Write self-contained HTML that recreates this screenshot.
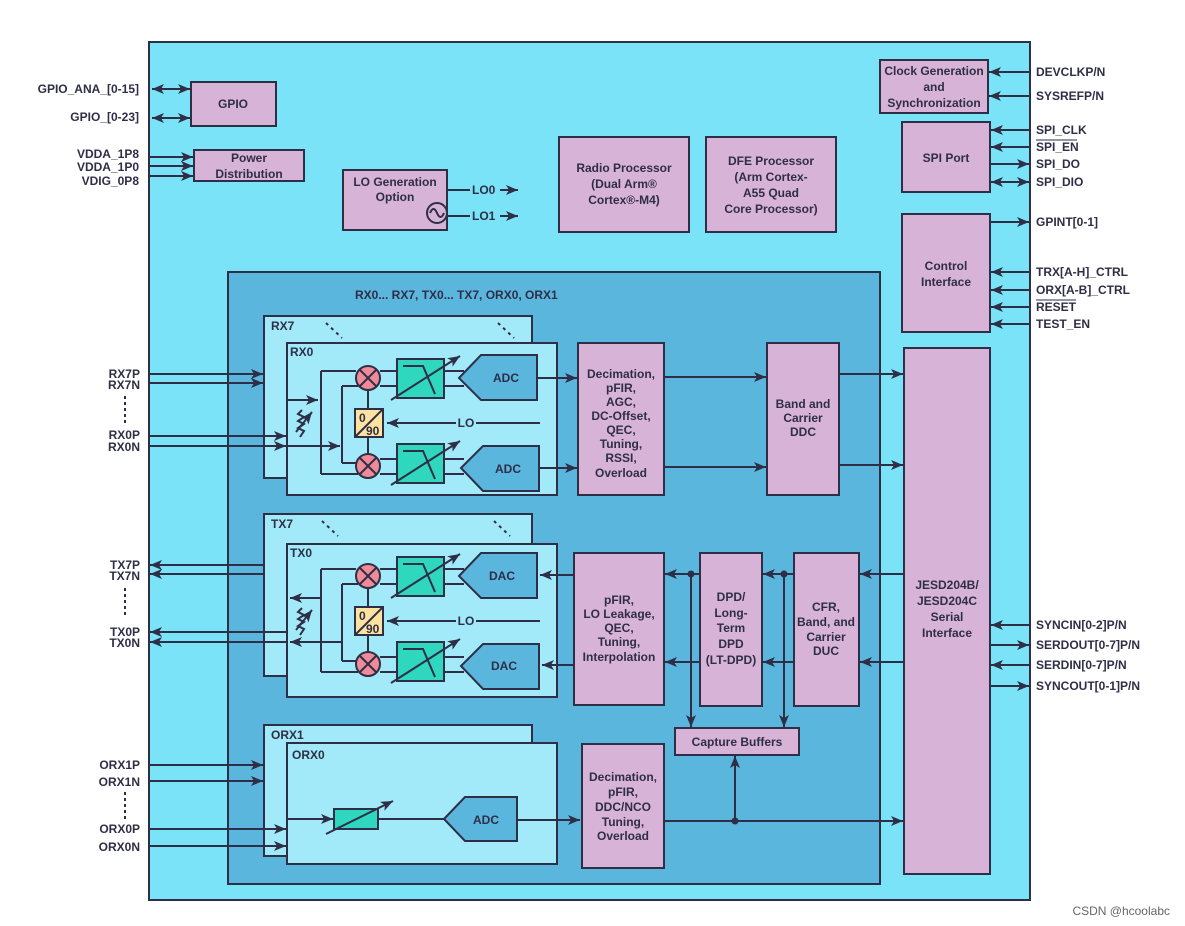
<!DOCTYPE html>
<html><head><meta charset="utf-8"><style>
html,body{margin:0;padding:0;background:#fff;}
svg{display:block;font-family:"Liberation Sans",sans-serif;font-weight:bold;}
</style></head><body>
<svg width="1185" height="926" viewBox="0 0 1185 926" xmlns="http://www.w3.org/2000/svg">
<defs>
<marker id="a" viewBox="0 0 12 10" refX="12" refY="5" markerWidth="12" markerHeight="10" markerUnits="userSpaceOnUse" orient="auto-start-reverse"><path d="M0,0 L12,5 L0,10 L3,5z" fill="#2e2e46"/></marker>
</defs>
<style>
.l{stroke:#2e2e46;stroke-width:2;fill:none}
.b{stroke:#2e2e46;stroke-width:2}
.p{fill:#d8b3d8}
.c{fill:#a2eaf9}
.g{fill:#30d7bf}
.ad{fill:#5bb6de}
text{fill:#2e2e46;font-size:12px}
.r{text-anchor:end}
.m{text-anchor:middle}
</style>
<!-- outer -->
<rect x="149" y="42" width="881" height="858" fill="#7be3f8" class="b"/>
<rect x="228" y="272" width="652" height="612" fill="#5bb6de" class="b"/>

<!-- left top -->
<text x="139" y="93" class="r">GPIO_ANA_[0-15]</text>
<text x="139" y="121" class="r">GPIO_[0-23]</text>
<line x1="152" y1="89" x2="190" y2="89" class="l" marker-start="url(#a)" marker-end="url(#a)"/>
<line x1="152" y1="118" x2="190" y2="118" class="l" marker-start="url(#a)" marker-end="url(#a)"/>
<rect x="191" y="82" width="85" height="44" class="p b"/>
<text x="233" y="108" class="m">GPIO</text>
<text x="139" y="158" class="r">VDDA_1P8</text>
<text x="139" y="171" class="r">VDDA_1P0</text>
<text x="139" y="185" class="r">VDIG_0P8</text>
<line x1="149" y1="157" x2="193" y2="157" class="l" marker-end="url(#a)"/>
<line x1="149" y1="166" x2="193" y2="166" class="l" marker-end="url(#a)"/>
<line x1="149" y1="176" x2="193" y2="176" class="l" marker-end="url(#a)"/>
<rect x="194" y="150" width="110" height="31" class="p b"/>
<text x="249" y="162" class="m">Power</text>
<text x="249" y="178" class="m">Distribution</text>

<!-- LO gen -->
<rect x="343" y="170" width="104" height="60" class="p b"/>
<text x="395" y="186" class="m">LO Generation</text>
<text x="395" y="201" class="m">Option</text>
<circle cx="437" cy="213" r="10" fill="none" class="l"/>
<path d="M430,213 q3.5,-8 7,0 t7,0" class="l" stroke-width="1.5"/>
<line x1="447" y1="190" x2="470" y2="190" class="l"/>
<line x1="447" y1="216" x2="470" y2="216" class="l"/>
<text x="472" y="194">LO0</text><text x="472" y="220">LO1</text>
<line x1="500" y1="190" x2="518" y2="190" class="l" marker-end="url(#a)"/>
<line x1="500" y1="216" x2="518" y2="216" class="l" marker-end="url(#a)"/>

<rect x="559" y="137" width="130" height="95" class="p b"/>
<text x="624" y="172" class="m">Radio Processor</text>
<text x="624" y="188" class="m">(Dual Arm®</text>
<text x="624" y="204" class="m">Cortex®-M4)</text>
<rect x="706" y="137" width="130" height="95" class="p b"/>
<text x="771" y="165" class="m">DFE Processor</text>
<text x="771" y="181" class="m">(Arm Cortex-</text>
<text x="771" y="197" class="m">A55 Quad</text>
<text x="771" y="213" class="m">Core Processor)</text>

<!-- right side -->
<rect x="880" y="60" width="108" height="53" class="p b"/>
<text x="934" y="75" class="m">Clock Generation</text>
<text x="934" y="91" class="m">and</text>
<text x="934" y="107" class="m">Synchronization</text>
<line x1="1030" y1="72" x2="989" y2="72" class="l" marker-end="url(#a)"/>
<line x1="1030" y1="96" x2="989" y2="96" class="l" marker-end="url(#a)"/>
<text x="1036" y="76">DEVCLKP/N</text><text x="1036" y="100">SYSREFP/N</text>
<rect x="902" y="122" width="88" height="70" class="p b"/>
<text x="946" y="162" class="m">SPI Port</text>
<line x1="1030" y1="130" x2="991" y2="130" class="l" marker-end="url(#a)"/>
<line x1="1030" y1="147" x2="991" y2="147" class="l" marker-end="url(#a)"/>
<line x1="990" y1="164" x2="1029" y2="164" class="l" marker-end="url(#a)"/>
<line x1="991" y1="182" x2="1029" y2="182" class="l" marker-start="url(#a)" marker-end="url(#a)"/>
<text x="1036" y="134">SPI_CLK</text><text x="1036" y="151">SPI_EN</text><line x1="1036" y1="140" x2="1077" y2="140" stroke="#2e2e46" stroke-width="1"/>
<text x="1036" y="168">SPI_DO</text><text x="1036" y="186">SPI_DIO</text>
<rect x="902" y="214" width="88" height="118" class="p b"/>
<text x="946" y="270" class="m">Control</text><text x="946" y="286" class="m">Interface</text>
<line x1="990" y1="222" x2="1029" y2="222" class="l" marker-end="url(#a)"/>
<line x1="1030" y1="272" x2="991" y2="272" class="l" marker-end="url(#a)"/>
<line x1="1030" y1="290" x2="991" y2="290" class="l" marker-end="url(#a)"/>
<line x1="1030" y1="307" x2="991" y2="307" class="l" marker-end="url(#a)"/>
<line x1="1030" y1="324" x2="991" y2="324" class="l" marker-end="url(#a)"/>
<text x="1036" y="226">GPINT[0-1]</text><text x="1036" y="276">TRX[A-H]_CTRL</text>
<text x="1036" y="294">ORX[A-B]_CTRL</text><text x="1036" y="311">RESET</text><line x1="1036" y1="300" x2="1076" y2="300" stroke="#2e2e46" stroke-width="1"/>
<text x="1036" y="328">TEST_EN</text>
<rect x="904" y="348" width="86" height="526" class="p b"/>
<text x="947" y="589" class="m">JESD204B/</text><text x="947" y="605" class="m">JESD204C</text>
<text x="947" y="621" class="m">Serial</text><text x="947" y="637" class="m">Interface</text>
<line x1="1030" y1="625" x2="991" y2="625" class="l" marker-end="url(#a)"/>
<line x1="990" y1="645" x2="1029" y2="645" class="l" marker-end="url(#a)"/>
<line x1="1030" y1="665" x2="991" y2="665" class="l" marker-end="url(#a)"/>
<line x1="990" y1="686" x2="1029" y2="686" class="l" marker-end="url(#a)"/>
<text x="1036" y="629">SYNCIN[0-2]P/N</text><text x="1036" y="649">SERDOUT[0-7]P/N</text>
<text x="1036" y="669">SERDIN[0-7]P/N</text><text x="1036" y="690">SYNCOUT[0-1]P/N</text>

<text x="355" y="299">RX0... RX7, TX0... TX7, ORX0, ORX1</text>

<!-- RX -->
<rect x="264" y="316" width="268" height="162" class="c b"/>
<text x="271" y="330">RX7</text>
<line x1="326" y1="323" x2="342" y2="338" class="l" stroke-dasharray="3,4"/>
<line x1="498" y1="323" x2="514" y2="338" class="l" stroke-dasharray="3,4"/>
<rect x="287" y="343" width="270" height="152" class="c b"/>
<text x="290" y="356">RX0</text>
<text x="140" y="378" class="r">RX7P</text><text x="140" y="389" class="r">RX7N</text>
<line x1="125" y1="396" x2="125" y2="424" class="l" stroke-dasharray="3,3"/>
<text x="140" y="439" class="r">RX0P</text><text x="140" y="451" class="r">RX0N</text>
<line x1="149" y1="374" x2="263" y2="374" class="l" marker-end="url(#a)"/>
<line x1="149" y1="383" x2="263" y2="383" class="l" marker-end="url(#a)"/>
<line x1="149" y1="436" x2="286" y2="436" class="l" marker-end="url(#a)"/>
<line x1="149" y1="446" x2="286" y2="446" class="l" marker-end="url(#a)"/>

<g id="chain">
<line x1="321" y1="371" x2="321" y2="474" class="l"/>
<line x1="342" y1="386" x2="342" y2="463" class="l"/>
<line x1="321" y1="371" x2="356" y2="371" class="l"/>
<line x1="342" y1="386" x2="358" y2="386" class="l"/>
<line x1="321" y1="474" x2="358" y2="474" class="l"/>
<line x1="342" y1="463" x2="356" y2="463" class="l"/>
<line x1="368" y1="390" x2="368" y2="454" class="l"/>
<rect x="355" y="409" width="28" height="28" fill="#fde3a0" class="b"/>
<line x1="355" y1="437" x2="383" y2="409" class="l"/>
<text x="359" y="422" font-size="11">0</text><text x="366" y="435" font-size="11">90</text>
<circle cx="368" cy="378" r="12" fill="#ef8b98" class="b"/>
<path d="M360,370 L376,386 M376,370 L360,386" class="l"/>
<circle cx="368" cy="466" r="12" fill="#ef8b98" class="b"/>
<path d="M360,458 L376,474 M376,458 L360,474" class="l"/>
<line x1="380" y1="371" x2="397" y2="371" class="l"/><line x1="380" y1="386" x2="397" y2="386" class="l"/>
<line x1="380" y1="459" x2="397" y2="459" class="l"/><line x1="380" y1="474" x2="397" y2="474" class="l"/>
<rect x="397" y="359" width="47" height="39" class="g b"/>
<rect x="397" y="444" width="47" height="39" class="g b"/>
<path d="M403,366 h20 l12,28" class="l"/>
<path d="M403,451 h20 l12,28" class="l"/>
<line x1="391" y1="400" x2="460" y2="356" class="l" marker-end="url(#a)"/>
<line x1="391" y1="485" x2="460" y2="441" class="l" marker-end="url(#a)"/>
<line x1="444" y1="371" x2="464" y2="371" class="l"/><line x1="444" y1="386" x2="464" y2="386" class="l"/>
<line x1="444" y1="459" x2="464" y2="459" class="l"/><line x1="444" y1="474" x2="464" y2="474" class="l"/>
<polygon points="459,378 481,355 537,355 537,400 481,400" class="ad b"/>
<polygon points="461,468 483,446 539,446 539,491 483,491" class="ad b"/>
<line x1="540" y1="423" x2="476" y2="423" class="l"/>
<line x1="456" y1="423" x2="387" y2="423" class="l" marker-end="url(#a)"/>
<text x="466" y="427" class="m">LO</text>
<path d="M302,410 l-4,4 6,3 -6,4 6,3 -6,4 6,3 -4,6" class="l" stroke-width="1.5"/>
<line x1="296" y1="432" x2="312" y2="412" class="l" stroke-width="1.5" marker-end="url(#a)"/>
</g>
<line x1="287" y1="400" x2="318" y2="400" class="l" marker-end="url(#a)"/>
<line x1="287" y1="446" x2="340" y2="446" class="l" marker-end="url(#a)"/>
<text x="506" y="382" class="m">ADC</text><text x="508" y="473" class="m">ADC</text>
<line x1="537" y1="378" x2="577" y2="378" class="l" marker-end="url(#a)"/>
<line x1="539" y1="468" x2="577" y2="468" class="l" marker-end="url(#a)"/>
<rect x="578" y="343" width="86" height="152" class="p b"/>
<g class="m"><text x="621" y="378" class="m">Decimation,</text><text x="621" y="392" class="m">pFIR,</text><text x="621" y="406" class="m">AGC,</text><text x="621" y="420" class="m">DC-Offset,</text><text x="621" y="434" class="m">QEC,</text><text x="621" y="448" class="m">Tuning,</text><text x="621" y="462" class="m">RSSI,</text><text x="621" y="477" class="m">Overload</text></g>
<line x1="664" y1="377" x2="766" y2="377" class="l" marker-end="url(#a)"/>
<line x1="664" y1="467" x2="766" y2="467" class="l" marker-end="url(#a)"/>
<rect x="767" y="343" width="72" height="152" class="p b"/>
<text x="803" y="408" class="m">Band and</text><text x="803" y="422" class="m">Carrier</text><text x="803" y="436" class="m">DDC</text>
<line x1="839" y1="374" x2="903" y2="374" class="l" marker-end="url(#a)"/>
<line x1="839" y1="465" x2="903" y2="465" class="l" marker-end="url(#a)"/>

<!-- TX -->
<rect x="264" y="514" width="268" height="162" class="c b"/>
<text x="271" y="528">TX7</text>
<line x1="322" y1="521" x2="338" y2="536" class="l" stroke-dasharray="3,4"/>
<line x1="494" y1="521" x2="510" y2="536" class="l" stroke-dasharray="3,4"/>
<rect x="287" y="544" width="270" height="153" class="c b"/>
<text x="290" y="557">TX0</text>
<text x="140" y="569" class="r">TX7P</text><text x="140" y="580" class="r">TX7N</text>
<line x1="125" y1="588" x2="125" y2="616" class="l" stroke-dasharray="3,3"/>
<text x="140" y="636" class="r">TX0P</text><text x="140" y="647" class="r">TX0N</text>
<line x1="264" y1="565" x2="150" y2="565" class="l" marker-end="url(#a)"/>
<line x1="264" y1="574" x2="150" y2="574" class="l" marker-end="url(#a)"/>
<line x1="287" y1="632" x2="150" y2="632" class="l" marker-end="url(#a)"/>
<line x1="287" y1="642" x2="150" y2="642" class="l" marker-end="url(#a)"/>
<g transform="translate(0,198)">
<use href="#chain"/>
</g>
<rect x="457" y="545" width="90" height="60" fill="#a2eaf9" opacity="0"/>
<line x1="321" y1="598" x2="290" y2="598" class="l" marker-end="url(#a)"/>
<line x1="342" y1="642" x2="290" y2="642" class="l" marker-end="url(#a)"/>
<rect x="458" y="552" width="4" height="1" fill="none"/>
<text x="502" y="580" class="m">DAC</text><text x="504" y="670" class="m">DAC</text>
<line x1="574" y1="575" x2="540" y2="575" class="l" marker-end="url(#a)"/>
<line x1="574" y1="665" x2="542" y2="665" class="l" marker-end="url(#a)"/>
<rect x="574" y="553" width="90" height="152" class="p b"/>
<text x="619" y="604" class="m">pFIR,</text><text x="619" y="618" class="m">LO Leakage,</text><text x="619" y="632" class="m">QEC,</text><text x="619" y="646" class="m">Tuning,</text><text x="619" y="661" class="m">Interpolation</text>
<line x1="700" y1="574" x2="665" y2="574" class="l" marker-end="url(#a)"/>
<line x1="700" y1="662" x2="665" y2="662" class="l" marker-end="url(#a)"/>
<line x1="691" y1="574" x2="691" y2="727" class="l" marker-end="url(#a)"/>
<circle cx="691" cy="574" r="3.5" fill="#2e2e46"/>
<rect x="700" y="553" width="62" height="153" class="p b"/>
<text x="731" y="601" class="m">DPD/</text><text x="731" y="617" class="m">Long-</text><text x="731" y="632" class="m">Term</text><text x="731" y="648" class="m">DPD</text><text x="731" y="664" class="m">(LT-DPD)</text>
<line x1="794" y1="574" x2="763" y2="574" class="l" marker-end="url(#a)"/>
<line x1="794" y1="662" x2="763" y2="662" class="l" marker-end="url(#a)"/>
<line x1="784" y1="574" x2="784" y2="727" class="l" marker-end="url(#a)"/>
<circle cx="784" cy="574" r="3.5" fill="#2e2e46"/>
<rect x="794" y="553" width="65" height="153" class="p b"/>
<text x="826" y="611" class="m">CFR,</text><text x="826" y="626" class="m">Band, and</text><text x="826" y="641" class="m">Carrier</text><text x="826" y="655" class="m">DUC</text>
<line x1="904" y1="574" x2="860" y2="574" class="l" marker-end="url(#a)"/>
<line x1="904" y1="662" x2="860" y2="662" class="l" marker-end="url(#a)"/>
<rect x="675" y="728" width="124" height="27" class="p b"/>
<text x="737" y="746" class="m">Capture Buffers</text>

<!-- ORX -->
<rect x="264" y="725" width="268" height="131" class="c b"/>
<text x="271" y="739">ORX1</text>
<rect x="287" y="743" width="270" height="121" class="c b"/>
<text x="292" y="759">ORX0</text>
<text x="140" y="769" class="r">ORX1P</text><text x="140" y="786" class="r">ORX1N</text>
<line x1="125" y1="792" x2="125" y2="820" class="l" stroke-dasharray="3,3"/>
<text x="140" y="833" class="r">ORX0P</text><text x="140" y="851" class="r">ORX0N</text>
<line x1="149" y1="765" x2="263" y2="765" class="l" marker-end="url(#a)"/>
<line x1="149" y1="781" x2="263" y2="781" class="l" marker-end="url(#a)"/>
<line x1="149" y1="829" x2="286" y2="829" class="l" marker-end="url(#a)"/>
<line x1="149" y1="846" x2="286" y2="846" class="l" marker-end="url(#a)"/>
<line x1="287" y1="819" x2="333" y2="819" class="l" marker-end="url(#a)"/>
<rect x="334" y="809" width="44" height="20" class="g b"/>
<line x1="326" y1="834" x2="393" y2="801" class="l" marker-end="url(#a)"/>
<line x1="378" y1="819" x2="444" y2="819" class="l"/>
<polygon points="444,819 465,797 517,797 517,841 465,841" class="ad b"/>
<text x="486" y="824" class="m">ADC</text>
<line x1="517" y1="820" x2="580" y2="820" class="l" marker-end="url(#a)"/>
<rect x="582" y="744" width="82" height="124" class="p b"/>
<text x="623" y="781" class="m">Decimation,</text><text x="623" y="796" class="m">pFIR,</text><text x="623" y="811" class="m">DDC/NCO</text><text x="623" y="826" class="m">Tuning,</text><text x="623" y="840" class="m">Overload</text>
<line x1="664" y1="821" x2="903" y2="821" class="l" marker-end="url(#a)"/>
<line x1="735" y1="821" x2="735" y2="756" class="l" marker-end="url(#a)"/>
<circle cx="735" cy="821" r="3.5" fill="#2e2e46"/>

<text x="1170" y="915" class="r" style="font-weight:normal;fill:#666">CSDN @hcoolabc</text>
</svg>
</body></html>
